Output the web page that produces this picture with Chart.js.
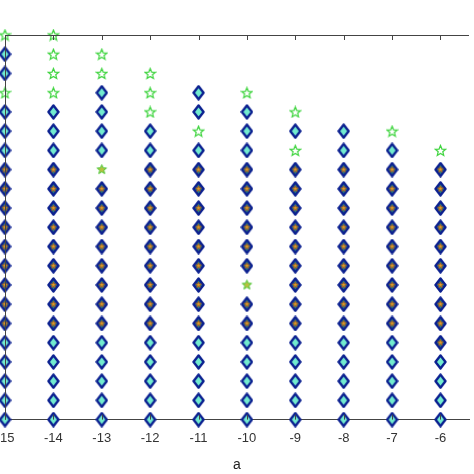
<!DOCTYPE html>
<html><head>
<script src="https://cdn.jsdelivr.net/npm/chart.js@4"></script>
<style>html,body{margin:0;padding:0;background:#fff}#c{width:474px;height:474px}</style>
</head><body>
<div id="c"><canvas id="chart" width="474" height="474"></canvas></div>
<script>
// columns of the grid (a values)
const columns = [-15, -14, -13, -12, -11, -10, -9, -8, -7, -6];
// green hollow stars (a, row)
const greenStars = [[-15,20],[-15,17],[-14,20],[-14,19],[-14,18],[-14,17],[-13,19],[-13,18],
  [-12,18],[-12,17],[-12,16],[-11,15],[-10,17],[-9,16],[-9,14],[-7,15],[-6,14]];
// lone asterisks
const asterisks = [[-13,13],[-10,7]];
// cyan diamonds above the mixed block, per column
const upperDiamonds = [[19,18,16,15,14],[16,15,14],[17,16,15,14],[15,14],[17,16,14],[16,15,14],[15],[15,14],[14],[]];
// mixed block rows (diamond + star) from mixedLow up to 13
const mixedTop = 13;
const mixedLow = [5,5,5,5,5,5,5,5,5,4];

const cyanPts = [], mixedPts = [];
columns.forEach((a, i) => {
  upperDiamonds[i].forEach(r => cyanPts.push({x: a, y: r}));
  for (let r = 0; r < mixedLow[i]; r++) cyanPts.push({x: a, y: r});
  for (let r = mixedLow[i]; r <= mixedTop; r++) {
    if (!asterisks.some(p => p[0] === a && p[1] === r)) mixedPts.push({x: a, y: r});
  }
});

function mk(w, h, draw) {
  const c = document.createElement('canvas'); c.width = w; c.height = h;
  draw(c.getContext('2d'), w, h); return c;
}
function starPath(ctx, cx, cy, R, r) {
  ctx.beginPath();
  for (let k = 0; k < 10; k++) {
    const ang = -Math.PI / 2 + k * Math.PI / 5, rad = k % 2 ? r : R;
    ctx.lineTo(cx + rad * Math.cos(ang), cy + rad * Math.sin(ang));
  }
  ctx.closePath();
}
function diamond(ctx, w, h, fill) {
  ctx.beginPath(); ctx.moveTo(w/2, 1.5); ctx.lineTo(w-1.5, h/2); ctx.lineTo(w/2, h-1.5); ctx.lineTo(1.5, h/2); ctx.closePath();
  ctx.fillStyle = fill; ctx.fill(); ctx.lineWidth = 2.4; ctx.lineJoin = 'round'; ctx.strokeStyle = '#0b2090'; ctx.stroke();
}
const cyanImg = mk(13, 16, (ctx, w, h) => diamond(ctx, w, h, '#72eccf'));
const mixedImg = mk(13, 16, (ctx, w, h) => {
  diamond(ctx, w, h, '#2f7f78');
  starPath(ctx, w/2, h/2, 3, 1.3); ctx.fillStyle = '#d8a828'; ctx.fill();
  ctx.lineWidth = 0.6; ctx.strokeStyle = '#b83a1a'; ctx.stroke();
});
const starImg = mk(13, 13, (ctx, w, h) => {
  starPath(ctx, w/2, h/2 + 0.5, 5.5, 2.4); ctx.lineWidth = 1.2; ctx.strokeStyle = '#3ed43e'; ctx.stroke();
});
const astImg = mk(13, 13, (ctx, w, h) => {
  starPath(ctx, w/2, h/2, 5, 2.2); ctx.fillStyle = '#b8c040'; ctx.fill();
  ctx.lineWidth = 1; ctx.strokeStyle = '#4cc83a'; ctx.stroke();
});

const frame = {
  id: 'frame',
  afterDraw(chart) {
    const {ctx, chartArea: a, scales: {x}} = chart;
    ctx.save(); ctx.strokeStyle = '#444'; ctx.lineWidth = 1;
    ctx.beginPath();
    ctx.moveTo(a.left + 0.5, a.top + 0.5); ctx.lineTo(a.right, a.top + 0.5);
    ctx.moveTo(a.left + 0.5, a.top); ctx.lineTo(a.left + 0.5, a.bottom);
    columns.forEach(v => {
      const px = Math.round(x.getPixelForValue(v)) + 0.5;
      ctx.moveTo(px, a.top); ctx.lineTo(px, a.top + 5);
      ctx.moveTo(px, a.bottom); ctx.lineTo(px, a.bottom - 5);
    });
    ctx.stroke(); ctx.restore();
  }
};

new Chart(document.getElementById('chart'), {
  type: 'scatter',
  data: {
    datasets: [
      {data: cyanPts, pointStyle: cyanImg, clip: false},
      {data: mixedPts, pointStyle: mixedImg, clip: false},
      {data: greenStars.map(p => ({x: p[0], y: p[1]})), pointStyle: starImg, clip: false},
      {data: asterisks.map(p => ({x: p[0], y: p[1]})), pointStyle: astImg, clip: false},
    ],
  },
  options: {
    responsive: false, animation: false,
    layout: {padding: {left: 5, top: 35, right: -6, bottom: 0}},
    plugins: {legend: {display: false}, tooltip: {enabled: false}},
    scales: {
      x: {
        type: 'linear', min: -15, max: -5.41,
        afterBuildTicks: s => { s.ticks = columns.map(v => ({value: v})); },
        afterFit: s => { s.paddingLeft = 0; s.paddingRight = 0; },
        grid: {display: false, drawTicks: false},
        border: {display: true, color: '#444'},
        ticks: {color: '#333', font: {family: 'Liberation Sans', size: 13}, padding: 11, maxRotation: 0, autoSkip: false},
        title: {display: true, text: 'a', color: '#222', font: {family: 'Liberation Sans', size: 14}, padding: {top: 0, bottom: 0}},
      },
      y: {
        display: false, min: 0, max: 20,
      },
    },
  },
  plugins: [frame],
});
</script>
</body></html>
